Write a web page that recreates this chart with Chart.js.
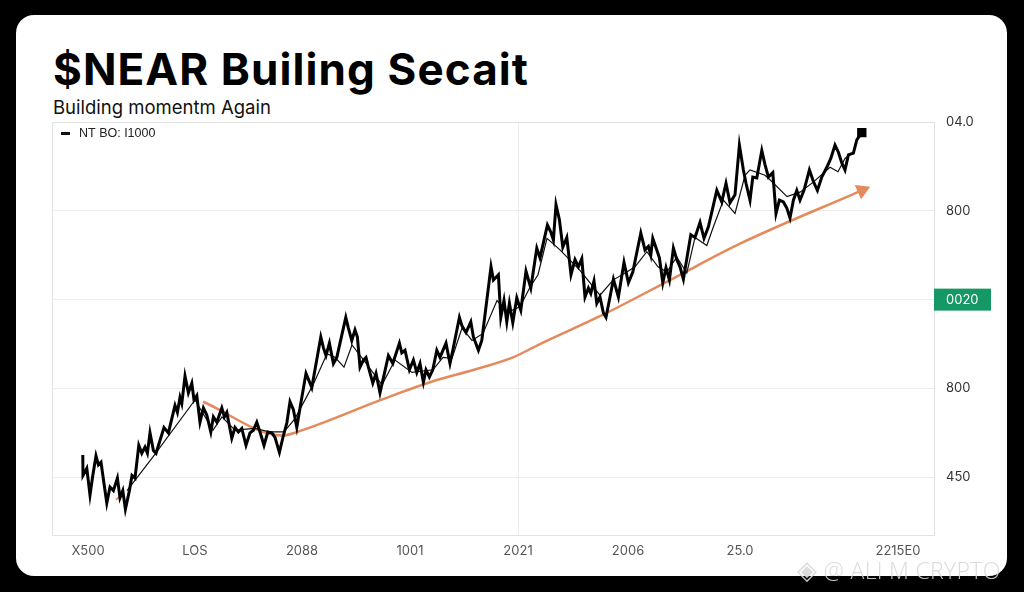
<!DOCTYPE html>
<html>
<head>
<meta charset="utf-8">
<script src="https://cdn.jsdelivr.net/npm/chart.js@4.4.1/dist/chart.umd.min.js"></script>
<style>
  html, body { margin: 0; padding: 0; background: #000; width: 1024px; height: 592px; overflow: hidden; }
  .card { position: absolute; left: 16px; top: 15px; width: 991px; height: 561px; background: #fff; border-radius: 18px; }
  .title { position: absolute; left: 53px; top: 42px; font: 700 44px Inter, sans-serif; color: #000; letter-spacing: 1.1px; white-space: nowrap; }
  .subtitle { position: absolute; left: 53px; top: 96px; font: 400 18.5px Inter, sans-serif; color: #111; white-space: nowrap; }
  #wrap { position: absolute; left: 0; top: 0; width: 1024px; height: 592px; }
  .mark { position: absolute; left: 797px; top: 551px; font: 300 23px "Open Sans", sans-serif; color: rgba(215,215,215,0.9); white-space: nowrap; letter-spacing: 0.3px; }
  .mark span { font-size: 26px; }
</style>
</head>
<body>
<div class="card"></div>
<div class="title">$NEAR Builing Secait</div>
<div class="subtitle">Building momentm Again</div>
<div id="wrap"><canvas id="chart" width="1024" height="592"></canvas></div>
<div class="mark"><span>&#9672;</span> @ ALI M CRYPTO</div>
<script>
// x = day index, y = price
const priceDays = [15.4,15.5,17.4,19,20.4,22,23.2,24.5,26,27.4,29,30.7,32.7,34,35.4,36.7,38.7,40,41.5,43.4,44.9,46.5,47.7,49,50.7,52,56,58.2,61.5,62.7,64,64.9,66.5,68.2,69.9,71,72.4,74,75.7,77.4,79.4,80.7,82.4,84.9,86.2,87.4,89.9,91.5,93.2,94.9,97,99,100.7,102.4,104,106,107.9,109.9,111.5,113.7,115.7,117.4,119,120.7,122.4,124,127,129.9,134.4,135.7,137,138.7,140.7,142.4,146.9,148.2,149.9,151.5,152.7,154,155.7,157,158.2,160.4,162,164,168.2,170.4,173.7,174.9,176.5,178.7,180.7,182.4,184,185.7,187,188.7,190.4,192.4,194,197,199,200.4,203.7,204.9,207,209.4,210.7,213.2,214.9,219.5,220.7,223.2,224.4,226,227.4,228.7,230.4,232.4,234.4,237,239.4,242.4,244,247.7,249.4,250.7,252,253.7,255.4,257.4,259.5,261.5,263.2,264.9,266.5,268.2,269.4,271,272.4,274,275.7,277,279,280.7,283.2,286,288.2,290.4,294.4,296.5,298.2,299.4,300.4,302.4,303.7,305.4,307,308.7,310.7,312.4,314,315.7,319.4,321.5,324,326,328.2,332.4,334.9,337,339,341.5,343.7,345.7,347,349,350.4,352.4,354.9,356.5,358.2,360.4,362,363.7,365.7,367.4,369,370.7,372.4,374,376,378.7,380.7,382.7,384.9,387.4,389.4,391.5,393.2,394.9,396.5,398.2,400.7,402.4,404.9];
const priceValues = [1.25,1.02,1.10,0.80,1.02,1.24,1.14,1.17,0.93,0.71,0.89,0.85,0.99,0.77,0.85,0.64,0.85,1.02,0.99,1.36,1.27,1.34,1.27,1.50,1.30,1.27,1.56,1.50,1.81,1.73,1.90,1.83,2.14,1.95,2.06,1.87,1.92,1.62,1.78,1.70,1.51,1.68,1.62,1.78,1.68,1.73,1.44,1.56,1.51,1.55,1.36,1.50,1.53,1.62,1.51,1.36,1.51,1.50,1.45,1.28,1.47,1.61,1.85,1.76,1.56,1.78,2.17,2.01,2.58,2.46,2.37,2.51,2.28,2.35,2.80,2.68,2.54,2.66,2.58,2.24,2.32,2.35,2.24,2.06,2.17,1.95,2.37,2.28,2.51,2.40,2.43,2.21,2.32,2.18,2.28,2.07,2.21,2.13,2.21,2.43,2.35,2.51,2.28,2.43,2.80,2.71,2.63,2.75,2.58,2.43,2.54,3.37,3.22,3.28,2.80,2.99,2.75,2.96,2.74,3.02,2.88,3.32,3.13,3.58,3.47,3.84,3.76,3.67,4.07,3.90,3.59,3.70,3.28,3.45,3.37,3.46,3.03,3.13,3.07,3.21,2.96,3.03,2.85,2.80,3.03,3.23,3.03,3.42,3.19,3.31,3.75,3.56,3.60,3.50,3.69,3.56,3.47,3.19,3.36,3.22,3.58,3.45,3.37,3.23,3.73,3.70,3.87,3.69,3.82,4.23,4.10,4.31,4.09,4.18,4.74,4.46,4.31,4.12,4.38,4.37,4.68,4.52,4.38,4.43,3.97,4.12,4.10,4.03,3.92,4.12,4.23,4.12,4.23,4.46,4.33,4.23,4.38,4.49,4.59,4.74,4.66,4.54,4.46,4.63,4.65,4.80,4.88];

const avgDays = [37.5,50.5,71.5,80.5,85,91.5,101.5,109,116,121.5,130.5,137.5,141.5,146,150,156.5,165,171.5,180,190.5,195.5,200,205,210,215.5,222.5,228,234,239,243,247.5,254,264,274,280.5,287.4,291.5,297.4,303,307.4,312.4,317.4,321.5,327.4,330.7,335.7,341.5,346.5,349,356.5,359,367.5,374,380.5,389,393,396.5,400.5];
const avgValues = [0.85,1.23,1.87,1.53,1.68,1.53,1.55,1.51,1.51,1.66,2.04,2.39,2.35,2.24,2.49,2.30,2.04,2.32,2.18,2.21,2.35,2.34,2.68,2.54,2.62,2.99,2.86,2.92,3.14,3.28,3.69,3.56,3.33,3.05,3.22,3.31,3.37,3.54,3.37,3.31,3.48,3.30,3.70,3.61,3.82,4.12,3.97,4.40,4.46,4.40,4.35,4.16,4.21,4.32,4.49,4.44,4.59,4.66];

const trendDays = [75.5,115.5,122.5,165.5,189,214,230.5,244,275.5,309,344,405];
const trendValues = [1.85,1.47,1.51,1.88,2.07,2.23,2.35,2.50,2.83,3.22,3.63,4.23];
const earlyTrendDays = [32,34.5];
const earlyTrendValues = [0.75,0.79];

const xTickDays = [18,71.5,125,179,233,288,344,423];
const xTickLabels = ['X500','LOS','2088','1001','2021','2006','25.0','2215E0'];
const yTickValues = [1,2,3,4,5];
const yTickLabels = ['450','800','0020','800','04.0'];
const badgeTick = 3;
const legendLabel = 'NT BO: I1000';

const toPoints = (xs, ys) => xs.map((x, i) => ({ x, y: ys[i] }));
const ORANGE = '#e48a5c';
const GREEN = '#169866';

const framePlugin = {
  id: 'frame',
  beforeDatasetsDraw(chart) {
    const { ctx, chartArea: a } = chart;
    ctx.save();
    ctx.strokeStyle = '#e2e2e2';
    ctx.lineWidth = 1;
    ctx.strokeRect(a.left + 0.5, a.top + 0.5, a.right - a.left, a.bottom - a.top);
    ctx.restore();
  },
  afterDraw(chart) {
    const { ctx, chartArea: a, scales } = chart;
    ctx.save();
    // legend sits inside the plot
    ctx.fillStyle = '#111';
    ctx.fillRect(a.left + 9, a.top + 10, 9, 3);
    ctx.font = '12.5px "Liberation Sans", Arial, sans-serif';
    ctx.textBaseline = 'middle';
    ctx.fillStyle = '#222';
    ctx.fillText(legendLabel, a.left + 27, a.top + 12);
    // green price badge
    const y = scales.y.getPixelForValue(badgeTick);
    ctx.fillStyle = GREEN;
    ctx.fillRect(a.right, y - 11, 57, 22);
    ctx.fillStyle = '#fff';
    ctx.font = '13px Inter, sans-serif';
    ctx.fillText(yTickLabels[yTickValues.indexOf(badgeTick)], a.right + 12, y + 0.5);
    ctx.restore();
  }
};

new Chart(document.getElementById('chart').getContext('2d'), {
  type: 'line',
  data: {
    datasets: [
      {
        label: 'trend',
        data: toPoints(trendDays, trendValues),
        borderColor: ORANGE,
        backgroundColor: ORANGE,
        borderWidth: 2.5,
        cubicInterpolationMode: 'monotone',
        pointRadius: ctx => ctx.dataIndex === trendDays.length - 1 ? 6.5 : 0,
        pointStyle: 'triangle',
        pointRotation: 66,
        order: 3
      },
      {
        label: 'trend early',
        data: toPoints(earlyTrendDays, earlyTrendValues),
        borderColor: ORANGE,
        borderWidth: 2,
        pointRadius: 0,
        order: 3
      },
      {
        label: 'avg',
        data: toPoints(avgDays, avgValues),
        borderColor: '#111',
        borderWidth: 1.2,
        pointRadius: 0,
        tension: 0,
        order: 2
      },
      {
        label: legendLabel,
        data: toPoints(priceDays, priceValues),
        borderColor: '#000',
        backgroundColor: '#000',
        borderWidth: 3,
        borderJoinStyle: 'miter',
        pointRadius: ctx => ctx.dataIndex === priceDays.length - 1 ? 4.5 : 0,
        pointStyle: 'rect',
        tension: 0,
        order: 1
      }
    ]
  },
  options: {
    responsive: false,
    animation: false,
    layout: { padding: { left: 52, top: 122, right: 0, bottom: 0 } },
    plugins: { legend: { display: false }, tooltip: { enabled: false } },
    scales: {
      x: {
        type: 'linear',
        min: 0,
        max: 441,
        afterBuildTicks: s => { s.ticks = xTickDays.map(v => ({ value: v })); },
        afterFit: s => { s.height = 57; },
        ticks: {
          autoSkip: false,
          maxRotation: 0,
          padding: 8,
          color: '#555',
          font: { family: 'Inter', size: 13 },
          callback: (v, i) => xTickLabels[i]
        },
        grid: {
          drawTicks: false,
          color: ctx => ctx.tick && ctx.tick.value === 233 ? '#ececec' : 'rgba(0,0,0,0)'
        },
        border: { color: '#e2e2e2' }
      },
      y: {
        position: 'right',
        min: 0.35,
        max: 5,
        afterBuildTicks: s => { s.ticks = yTickValues.map(v => ({ value: v })); },
        afterFit: s => { s.width = 90; },
        ticks: {
          padding: 12,
          color: ctx => ctx.tick && ctx.tick.value === badgeTick ? 'rgba(0,0,0,0)' : '#333',
          font: { family: 'Inter', size: 13 },
          callback: (v, i) => yTickLabels[i]
        },
        grid: { drawTicks: false, color: '#ececec' },
        border: { color: '#e2e2e2' }
      }
    }
  },
  plugins: [framePlugin]
});
</script>
</body>
</html>
